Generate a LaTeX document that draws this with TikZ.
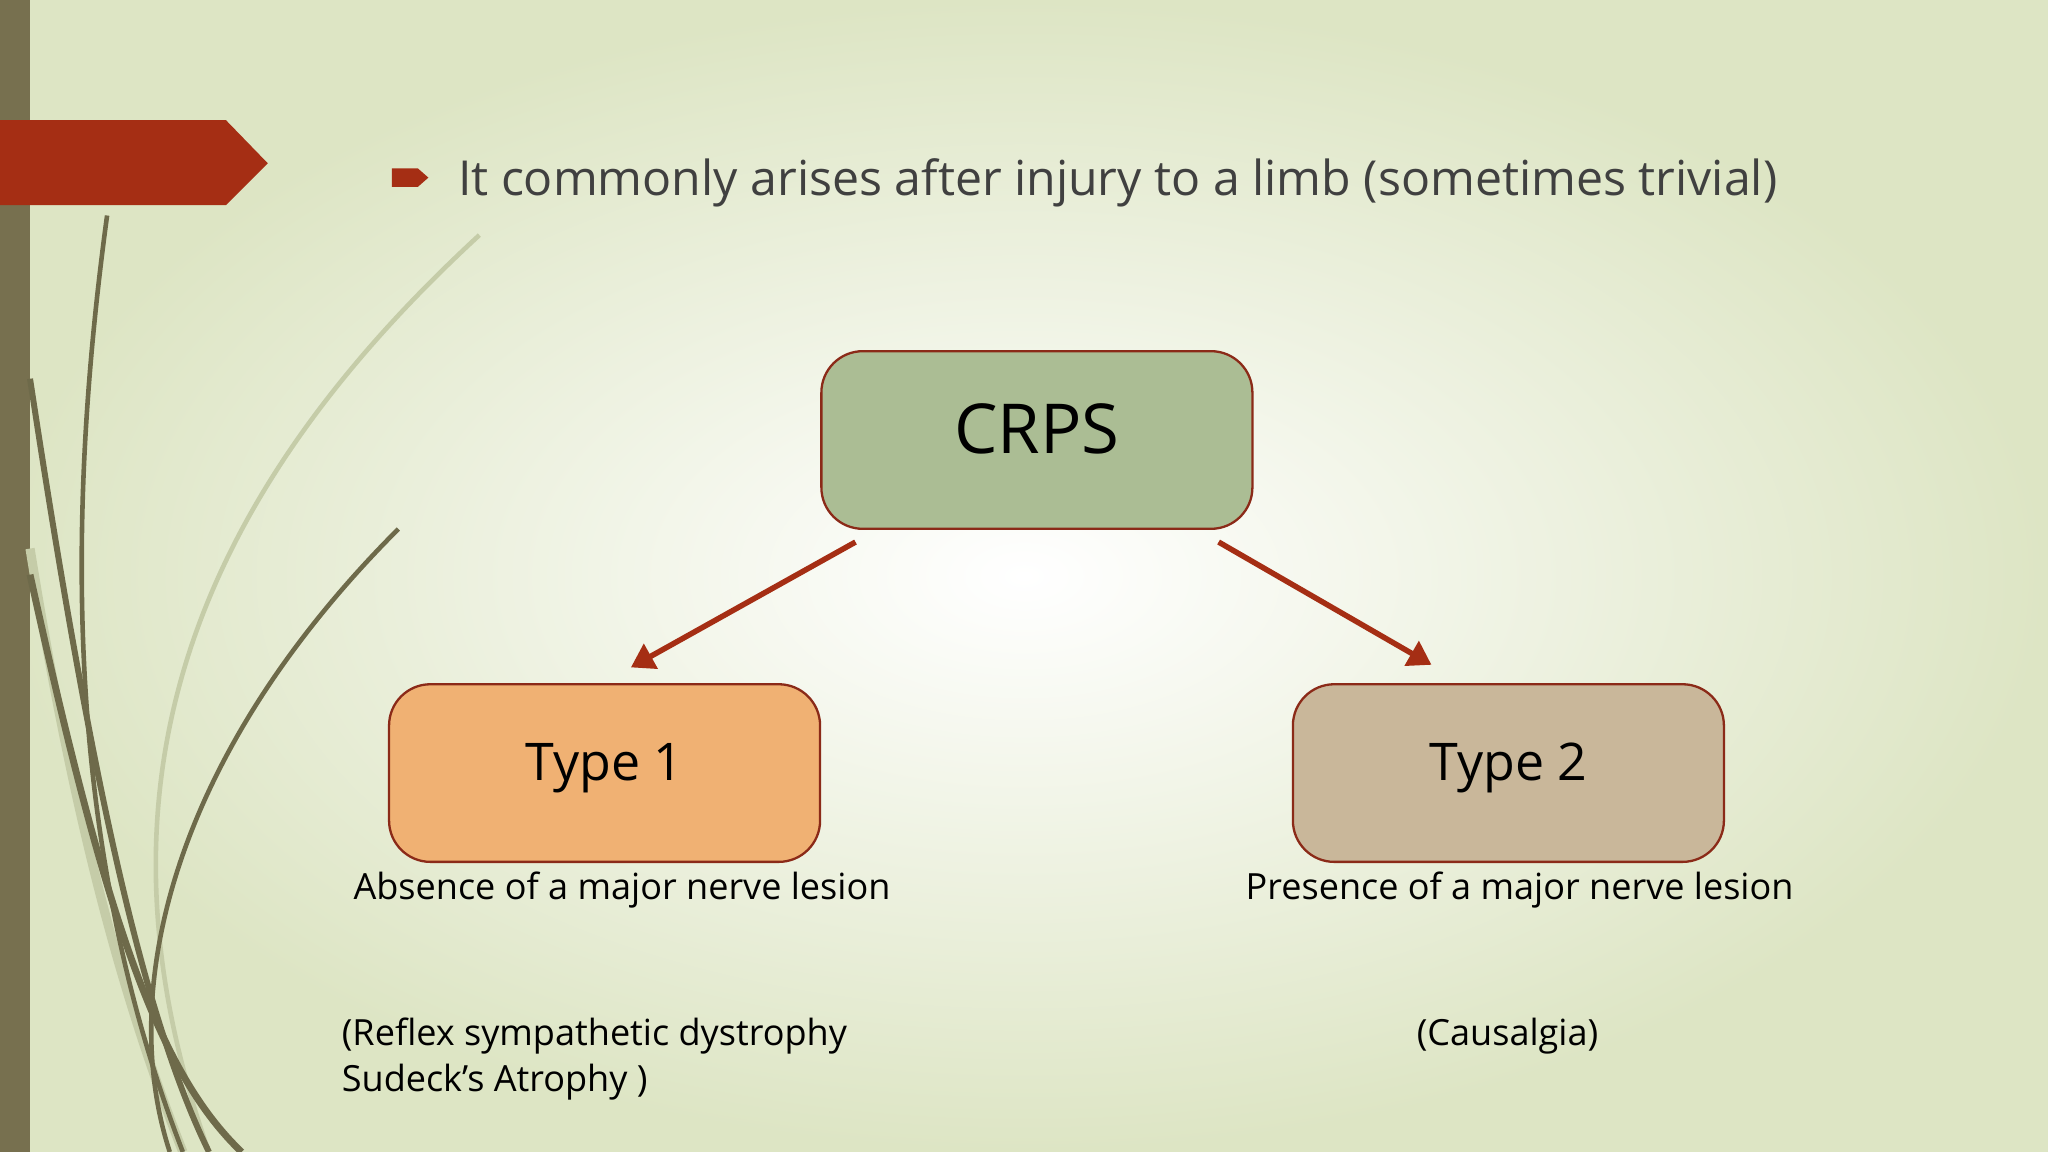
\documentclass[tikz,border=0pt]{standalone}
\usepackage{fontspec}
\setmainfont{Open Sans}
\usetikzlibrary{arrows.meta}
\definecolor{bgg}{HTML}{DDE5C4}
\definecolor{bar}{HTML}{77704F}
\definecolor{redd}{HTML}{A52E14}
\definecolor{edge}{HTML}{8B2A18}
\definecolor{txt}{HTML}{404040}
\definecolor{crps}{HTML}{ABBD94}
\definecolor{t1}{HTML}{F0B173}
\definecolor{t2}{HTML}{C9B79A}
\definecolor{stem}{HTML}{6E6A4A}
\definecolor{stem2}{HTML}{C5CCA8}
\begin{document}
\begin{tikzpicture}[x=0.01cm,y=-0.01cm,
  box/.style={draw=edge,line width=0.5pt,rounded corners=9pt,minimum width=330*0.01cm,minimum height=136*0.01cm,anchor=north west,font=\fontsize{11.3}{13}\selectfont},
  lbl/.style={anchor=north west,font=\fontsize{7.85}{10}\selectfont,text=black,inner sep=0pt,align=left},
  arr/.style={draw=redd,line width=1.2pt,-{Triangle[length=5pt,width=6pt]}}]
\useasboundingbox (0,0) rectangle (1568,882);
\begin{scope}
\clip (0,0) rectangle (1568,882);
\shade[inner color=white,outer color=bgg] (0,0) rectangle (1568,882);
\end{scope}
\fill[bar] (0,0) rectangle (23,882);
% stems
\draw[stem2,line width=1pt] (367,180) .. controls (150,380) and (60,600) .. (160,882);
\draw[stem2,line width=2pt] (23,420) .. controls (60,650) and (100,780) .. (140,882);
\draw[stem,line width=1pt] (82,165) .. controls (50,400) and (50,650) .. (140,882);
\draw[stem,line width=1.3pt] (23,290) .. controls (70,600) and (110,780) .. (160,882);
\draw[stem,line width=1pt] (305,405) .. controls (130,580) and (90,760) .. (130,882);
\draw[stem,line width=1.5pt] (23,440) .. controls (80,700) and (120,820) .. (185,882);
\fill[redd] (0,92) -- (173,92) -- (205,125) -- (173,157) -- (0,157) -- cycle;
\fill[redd] (300,129) -- (320,129) -- (328,136) -- (320,143) -- (300,143) -- cycle;
\node[anchor=west,text=txt,font=\fontsize{10.5}{12}\selectfont,inner sep=0pt] (t) at (350,140) {It commonly arises after injury to a limb (sometimes trivial)};
\node[box,fill=crps,font=\fontsize{15}{17}\selectfont,text depth=5pt] (c) at (628,268) {CRPS};
\node[box,fill=t1,text depth=5pt] (a) at (297,523) {Type 1};
\node[box,fill=t2,text depth=5pt] (b) at (989,523) {Type 2};
\coordinate (s1) at (655,415); \coordinate (e1) at (483,511);
\coordinate (s2) at (933,415); \coordinate (e2) at (1096,509);
\draw[arr] (s1) -- (e1);
\draw[arr] (s2) -- (e2);
\node[lbl] (la) at (270,667) {Absence of a major nerve lesion};
\node[lbl] (lb) at (953,667) {Presence of a major nerve lesion};
\node[lbl] (ra) at (261,779) {(Reflex sympathetic dystrophy\\Sudeck’s Atrophy )};
\node[lbl] (rb) at (1084,779) {(Causalgia)};
\end{tikzpicture}
\end{document}
